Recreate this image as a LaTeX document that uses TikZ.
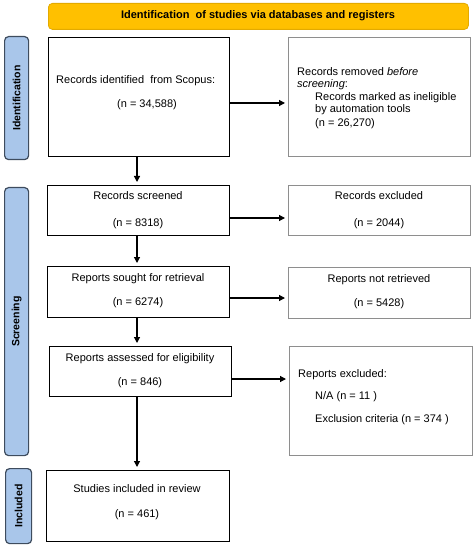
\documentclass[tikz,border=0pt]{standalone}
\usepackage{fontspec}
\setmainfont{Liberation Sans}
\usetikzlibrary{arrows.meta}
\definecolor{banner}{HTML}{FFC000}
\definecolor{bannerline}{HTML}{E3AA00}
\definecolor{sidefill}{HTML}{A9C6EA}
\definecolor{sideline}{HTML}{3E4C5E}
\definecolor{graybox}{HTML}{8E8E8E}
\tikzset{
  x=1pt, y=1pt,
  lbox/.style={draw=black, line width=1.3pt, inner sep=0pt, anchor=north west},
  rbox/.style={draw=graybox, line width=1.3pt, inner sep=0pt, anchor=north west},
  side/.style={draw=sideline, fill=sidefill, line width=1.2pt, rounded corners=4pt, inner sep=0pt, anchor=north west},
  sidetext/.style={font=\fontsize{10.5}{12}\selectfont\bfseries, rotate=90, inner sep=0pt},
  txt/.style={font=\fontsize{11}{13}\selectfont, inner sep=0pt},
  tl/.style={txt, anchor=base west},
  tc/.style={txt, anchor=base},
  arr/.style={line width=1.2pt, -{Triangle[length=6pt,width=6pt]}, shorten >=3pt},
}
\begin{document}
\begin{tikzpicture}
\useasboundingbox (0,0) rectangle (474,-545);
% banner
\node[draw=bannerline, fill=banner, line width=0.8pt, rounded corners=4pt, minimum width=420pt, minimum height=26pt, inner sep=0pt, anchor=north west] (ban) at (48,-3) {};
\node[font=\fontsize{11}{12}\selectfont\bfseries, inner sep=0pt] (bantxt) at (258,-16) {Identification\ \ of studies via databases and registers};
% side labels
\node[side, minimum width=24pt, minimum height=123pt] (sid) at (4,-36) {};
\node[sidetext] (sidt) at (sid.center) {Identification};
\node[side, minimum width=24pt, minimum height=268pt] (sscr) at (4,-187) {};
\node[sidetext] (sscrt) at (sscr.center) {Screening};
\node[side, minimum width=26pt, minimum height=75pt] (sinc) at (5,-468) {};
\node[sidetext] (sinct) at (sinc.center) {Included};
% boxes
\node[lbox, minimum width=181pt, minimum height=119pt] (b1) at (48,-37) {};
\node[rbox, minimum width=182pt, minimum height=119pt] (rem) at (288,-37) {};
\node[lbox, minimum width=182pt, minimum height=50pt] (scr) at (47,-185) {};
\node[rbox, minimum width=182pt, minimum height=50pt] (exc) at (288,-185) {};
\node[lbox, minimum width=182pt, minimum height=51pt] (sou) at (47,-266) {};
\node[rbox, minimum width=182pt, minimum height=51pt] (nre) at (288,-267) {};
\node[lbox, minimum width=182pt, minimum height=50pt] (ass) at (49,-346) {};
\node[rbox, minimum width=183pt, minimum height=109pt] (rex) at (289,-346) {};
\node[lbox, minimum width=183pt, minimum height=71pt] (inc) at (46,-470) {};
% texts
\node[tl] (t1a) at (56,-84) {Records identified\ \ from Scopus:};
\node[tc] (t1b) at (147,-108) {(n = 34,588)};
\node[tl] (t2a) at (297,-76) {Records removed \textit{before}};
\node[tl] (t2b) at (297,-88) {\textit{screening}:};
\node[tl] (t2c) at (315,-101) {Records marked as ineligible};
\node[tl] (t2d) at (315,-113) {by automation tools};
\node[tl] (t2e) at (315,-127) {(n = 26,270)};
\node[tc] (t3a) at (138,-200) {Records screened};
\node[tc] (t3b) at (138,-226) {(n = 8318)};
\node[tc] (t4a) at (379,-200) {Records excluded};
\node[tc] (t4b) at (379,-226) {(n = 2044)};
\node[tc] (t5a) at (138,-281) {Reports sought for retrieval};
\node[tc] (t5b) at (138,-305) {(n = 6274)};
\node[tc] (t6a) at (379,-282) {Reports not retrieved};
\node[tc] (t6b) at (379,-306) {(n = 5428)};
\node[tc] (t7a) at (140,-361) {Reports assessed for eligibility};
\node[tc] (t7b) at (140,-385) {(n = 846)};
\node[tl] (t8a) at (298,-377) {Reports excluded:};
\node[tl] (t8b) at (315,-399) {N/A (n = 11 )};
\node[tl] (t8c) at (315,-422) {Exclusion criteria (n = 374 )};
\node[tc] (t9a) at (137,-492) {Studies included in review};
\node[tc] (t9b) at (137,-517) {(n = 461)};
% horizontal arrows
\draw[arr] (b1.east |- 0,-103) -- (rem.west |- 0,-103);
\draw[arr] (scr.east |- 0,-218) -- (exc.west |- 0,-218);
\draw[arr] (sou.east |- 0,-298) -- (nre.west |- 0,-298);
\draw[arr] (ass.east |- 0,-379) -- (rex.west |- 0,-379);
% vertical arrows
\draw[arr] (b1.south -| 137,0) -- (scr.north -| 137,0);
\draw[arr] (scr.south -| 137,0) -- (sou.north -| 137,0);
\draw[arr] (sou.south -| 137,0) -- (ass.north -| 137,0);
\draw[arr] (ass.south -| 137,0) -- (inc.north -| 137,0);
\end{tikzpicture}
\end{document}
